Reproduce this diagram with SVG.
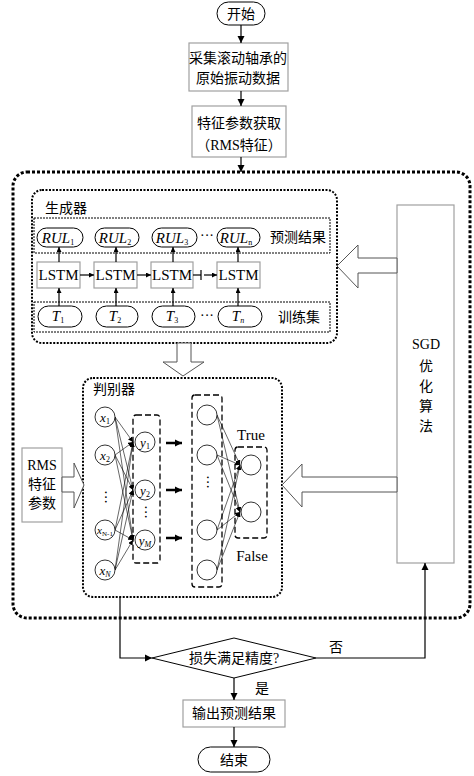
<svg xmlns="http://www.w3.org/2000/svg" width="474" height="776" viewBox="0 0 474 776">
<defs>
<marker id="a" viewBox="0 0 10 10" refX="10" refY="5" markerWidth="7" markerHeight="8" orient="auto" markerUnits="userSpaceOnUse"><path d="M0,0 L10,5 L0,10 z" fill="#000"/></marker>
<marker id="s" viewBox="0 0 10 10" refX="10" refY="5" markerWidth="5" markerHeight="5" orient="auto" markerUnits="userSpaceOnUse"><path d="M0,0 L10,5 L0,10 z" fill="#000"/></marker>
<style>
text{font-family:"Liberation Serif","Noto Sans CJK SC",serif;fill:#000;}
.t{font-size:14px;text-anchor:middle;}
.l{font-size:15px;text-anchor:middle;}
.i{font-size:15px;font-style:italic;text-anchor:middle;}
.sub{font-size:8px;font-style:normal;}
.box{fill:#fff;stroke:#a0a0a0;stroke-width:1.2;}
.term{fill:#fff;stroke:#000;stroke-width:1;}
.ln{fill:none;stroke:#000;stroke-width:1.2;}
.thin{fill:none;stroke:#000;stroke-width:0.6;}
.hollow{fill:#fff;stroke:#555;stroke-width:1;}
.outer{fill:none;stroke:#000;stroke-width:3;stroke-dasharray:3 2;}
.mid{fill:none;stroke:#000;stroke-width:2;stroke-dasharray:2 1.5;}
.dot{fill:none;stroke:#000;stroke-width:1;stroke-dasharray:2 1;}
.dash{fill:none;stroke:#000;stroke-width:1.3;stroke-dasharray:6 3;}
.c{fill:#fff;stroke:#000;stroke-width:0.8;}
</style>
</defs>

<!-- containers -->
<g id="outer"><rect class="outer" x="13" y="172" width="457" height="446" rx="14"/></g>
<g id="generator">
<rect class="mid" x="32" y="190" width="305" height="153" rx="10"/>
<text x="45" y="213" style="font-size:14px">生成器</text>
<rect class="dot" x="34" y="218" width="296" height="35"/>
<rect class="dot" x="34" y="302" width="296" height="30"/>
<text x="298" y="242" class="t">预测结果</text>
<text x="299" y="322" class="t">训练集</text>
</g>

<!-- flow nodes -->
<g id="start"><rect class="term" x="217" y="2" width="48" height="23" rx="11.5"/><text x="241" y="19" class="t">开始</text></g>
<g id="collect"><rect class="box" x="189" y="43" width="99" height="48"/><text x="238" y="63" class="t">采集滚动轴承的</text><text x="238" y="83" class="t">原始振动数据</text></g>
<g id="feature"><rect class="box" x="192" y="106" width="94" height="51"/><text x="239" y="128" class="t">特征参数获取</text><text x="239" y="150" class="t">（RMS特征）</text></g>

<g id="rul1"><rect class="term" x="37" y="228" width="46" height="19" rx="9.5"/><text x="58" y="243" class="i">RUL<tspan class="sub" dy="2">1</tspan></text></g>
<g id="rul2"><rect class="term" x="95" y="228" width="44" height="19" rx="9.5"/><text x="115" y="243" class="i">RUL<tspan class="sub" dy="2">2</tspan></text></g>
<g id="rul3"><rect class="term" x="152" y="228" width="45" height="19" rx="9.5"/><text x="172" y="243" class="i">RUL<tspan class="sub" dy="2">3</tspan></text></g>
<g id="ruln"><rect class="term" x="217" y="228" width="43" height="19" rx="9.5"/><text x="236" y="243" class="i">RUL<tspan class="sub" dy="2">n</tspan></text></g>
<text x="207" y="240" class="t">···</text>

<g id="lstm1"><rect class="box" x="37" y="262" width="43" height="26"/><text x="58.5" y="280" class="l">LSTM</text></g>
<g id="lstm2"><rect class="box" x="94" y="262" width="43" height="26"/><text x="115.5" y="280" class="l">LSTM</text></g>
<g id="lstm3"><rect class="box" x="151" y="262" width="42" height="26"/><text x="172" y="280" class="l">LSTM</text></g>
<g id="lstm4"><rect class="box" x="217" y="262" width="43" height="26"/><text x="238.5" y="280" class="l">LSTM</text></g>

<g id="t1"><rect class="term" x="38" y="306" width="44" height="21" rx="10.5"/><text x="58" y="321" class="i">T<tspan class="sub" dy="2">1</tspan></text></g>
<g id="t2"><rect class="term" x="96" y="306" width="42" height="21" rx="10.5"/><text x="115" y="321" class="i">T<tspan class="sub" dy="2">2</tspan></text></g>
<g id="t3"><rect class="term" x="152" y="306" width="43" height="21" rx="10.5"/><text x="172" y="321" class="i">T<tspan class="sub" dy="2">3</tspan></text></g>
<g id="tn"><rect class="term" x="218" y="306" width="44" height="21" rx="10.5"/><text x="238" y="321" class="i">T<tspan class="sub" dy="2" style="font-style:italic">n</tspan></text></g>
<text x="207" y="320" class="t">···</text>

<g id="sgd"><rect class="box" x="397" y="205" width="57" height="358"/>
<text x="426" y="349" class="t">SGD</text><text x="426" y="371" class="t">优</text><text x="426" y="391" class="t">化</text><text x="426" y="411" class="t">算</text><text x="426" y="431" class="t">法</text></g>

<g id="rms"><rect class="box" x="22" y="448" width="40" height="74"/>
<text x="42" y="470" class="t">RMS</text><text x="42" y="489" class="t">特征</text><text x="42" y="508" class="t">参数</text></g>

<g id="discriminator">
<rect class="mid" x="83" y="378" width="199" height="219" rx="10"/>
<text x="93" y="394" style="font-size:14px">判别器</text>
<rect class="dash" x="133" y="415" width="27" height="148" rx="3"/>
<rect class="dash" x="192" y="395" width="30" height="192" rx="3"/>
<rect class="dash" x="235" y="447" width="32" height="91" rx="3"/>
<text x="251" y="440" class="l">True</text>
<text x="252" y="561" class="l">False</text>
<g class="thin">
<line x1="115" y1="417" x2="133" y2="442" marker-end="url(#s)"/><line x1="115" y1="417" x2="133" y2="490" marker-end="url(#s)"/><line x1="115" y1="417" x2="133" y2="540" marker-end="url(#s)"/>
<line x1="115" y1="455" x2="133" y2="442" marker-end="url(#s)"/><line x1="115" y1="455" x2="133" y2="490" marker-end="url(#s)"/><line x1="115" y1="455" x2="133" y2="540" marker-end="url(#s)"/>
<line x1="115" y1="530" x2="133" y2="442" marker-end="url(#s)"/><line x1="115" y1="530" x2="133" y2="490" marker-end="url(#s)"/><line x1="115" y1="530" x2="133" y2="540" marker-end="url(#s)"/>
<line x1="115" y1="570" x2="133" y2="442" marker-end="url(#s)"/><line x1="115" y1="570" x2="133" y2="490" marker-end="url(#s)"/><line x1="115" y1="570" x2="133" y2="540" marker-end="url(#s)"/>
<line x1="217" y1="415" x2="240" y2="465" marker-end="url(#s)"/><line x1="217" y1="415" x2="240" y2="512" marker-end="url(#s)"/>
<line x1="217" y1="455" x2="240" y2="465" marker-end="url(#s)"/><line x1="217" y1="455" x2="240" y2="512" marker-end="url(#s)"/>
<line x1="217" y1="530" x2="240" y2="465" marker-end="url(#s)"/><line x1="217" y1="530" x2="240" y2="512" marker-end="url(#s)"/>
<line x1="217" y1="570" x2="240" y2="465" marker-end="url(#s)"/><line x1="217" y1="570" x2="240" y2="512" marker-end="url(#s)"/>
</g>
<g id="xnodes">
<circle class="c" cx="105" cy="417" r="10"/><text x="105" y="422" class="i" style="font-size:13px">x<tspan class="sub" dy="2">1</tspan></text>
<circle class="c" cx="105" cy="455" r="10"/><text x="105" y="460" class="i" style="font-size:13px">x<tspan class="sub" dy="2">2</tspan></text>
<text x="105" y="497" class="t" style="writing-mode:tb">···</text>
<circle class="c" cx="105" cy="530" r="10"/><text x="105" y="534" class="i" style="font-size:11px">x<tspan class="sub" dy="2" style="font-size:7px">N-1</tspan></text>
<circle class="c" cx="105" cy="570" r="10"/><text x="105" y="575" class="i" style="font-size:13px">x<tspan class="sub" dy="2" style="font-style:italic">N</tspan></text>
</g>
<g id="ynodes">
<circle class="c" cx="145" cy="442" r="10"/><text x="145" y="447" class="i" style="font-size:13px">y<tspan class="sub" dy="2">1</tspan></text>
<circle class="c" cx="145" cy="490" r="10"/><text x="145" y="495" class="i" style="font-size:13px">y<tspan class="sub" dy="2">2</tspan></text>
<text x="145" y="512" class="t" style="writing-mode:tb">···</text>
<circle class="c" cx="145" cy="540" r="10"/><text x="145" y="545" class="i" style="font-size:13px">y<tspan class="sub" dy="2" style="font-style:italic">M</tspan></text>
</g>
<g id="hidden">
<circle class="c" cx="207" cy="415" r="10"/><circle class="c" cx="207" cy="455" r="10"/>
<text x="207" y="482" class="t" style="writing-mode:tb">···</text>
<circle class="c" cx="207" cy="530" r="10"/><circle class="c" cx="207" cy="570" r="10"/>
</g>
<g id="outnodes"><circle class="c" cx="251" cy="465" r="10"/><circle class="c" cx="251" cy="512" r="10"/></g>
</g>

<g id="decision"><polygon points="152,658 234,638 316,658 234,678" fill="#fff" stroke="#000" stroke-width="1"/><text x="234" y="663" class="t">损失满足精度?</text></g>
<g id="output"><rect class="box" x="183" y="700" width="102" height="27"/><text x="234" y="718" class="t">输出预测结果</text></g>
<g id="end"><rect class="term" x="198" y="747" width="72" height="25" rx="12.5"/><text x="234" y="765" class="t">结束</text></g>

<!-- connectors -->
<g id="connectors">
<line class="ln" x1="241" y1="25" x2="241" y2="43" marker-end="url(#a)"/>
<line class="ln" x1="241" y1="91" x2="241" y2="106" marker-end="url(#a)"/>
<line class="ln" x1="241" y1="157" x2="241" y2="172" marker-end="url(#a)"/>
<line class="ln" x1="59" y1="262" x2="59" y2="247" marker-end="url(#s)"/>
<line class="ln" x1="116" y1="262" x2="116" y2="247" marker-end="url(#s)"/>
<line class="ln" x1="173" y1="262" x2="173" y2="247" marker-end="url(#s)"/>
<line class="ln" x1="238" y1="262" x2="238" y2="247" marker-end="url(#s)"/>
<line class="ln" x1="59" y1="306" x2="59" y2="288" marker-end="url(#s)"/>
<line class="ln" x1="116" y1="306" x2="116" y2="288" marker-end="url(#s)"/>
<line class="ln" x1="173" y1="306" x2="173" y2="288" marker-end="url(#s)"/>
<line class="ln" x1="238" y1="306" x2="238" y2="288" marker-end="url(#s)"/>
<line class="ln" x1="80" y1="275" x2="94" y2="275" marker-end="url(#s)"/>
<line class="ln" x1="137" y1="275" x2="151" y2="275" marker-end="url(#s)"/>
<line class="ln" x1="193" y1="275" x2="201" y2="275"/>
<line class="ln" x1="201" y1="270" x2="201" y2="280"/>
<line class="ln" x1="204" y1="275" x2="217" y2="275" marker-end="url(#s)"/>
<path class="hollow" d="M337,266 L358,245 L358,258 L397,258 L397,273 L358,273 L358,288 Z"/>
<path class="hollow" d="M282,485 L302,464 L302,477 L397,477 L397,492 L302,492 L302,507 Z"/>
<path class="hollow" d="M183,376 L163,362 L177,362 L177,343 L191,343 L191,362 L204,362 Z"/>
<path class="hollow" d="M84,485 L74,463 L74,477 L62,477 L62,492 L74,492 L74,508 Z"/>
<g stroke="#000" stroke-width="2.5">
<line x1="166" y1="443" x2="182" y2="443" marker-end="url(#a)"/>
<line x1="166" y1="490" x2="182" y2="490" marker-end="url(#a)"/>
<line x1="166" y1="538" x2="182" y2="538" marker-end="url(#a)"/>
</g>
<polyline class="ln" points="120,597 120,658 152,658" marker-end="url(#a)"/>
<polyline class="ln" points="316,658 425,658 425,563" marker-end="url(#a)"/>
<text x="336" y="652" class="t">否</text>
<line class="ln" x1="234" y1="678" x2="234" y2="700" marker-end="url(#a)"/>
<text x="262" y="693" class="t">是</text>
<line class="ln" x1="234" y1="727" x2="234" y2="747" marker-end="url(#a)"/>
</g>
</svg>
